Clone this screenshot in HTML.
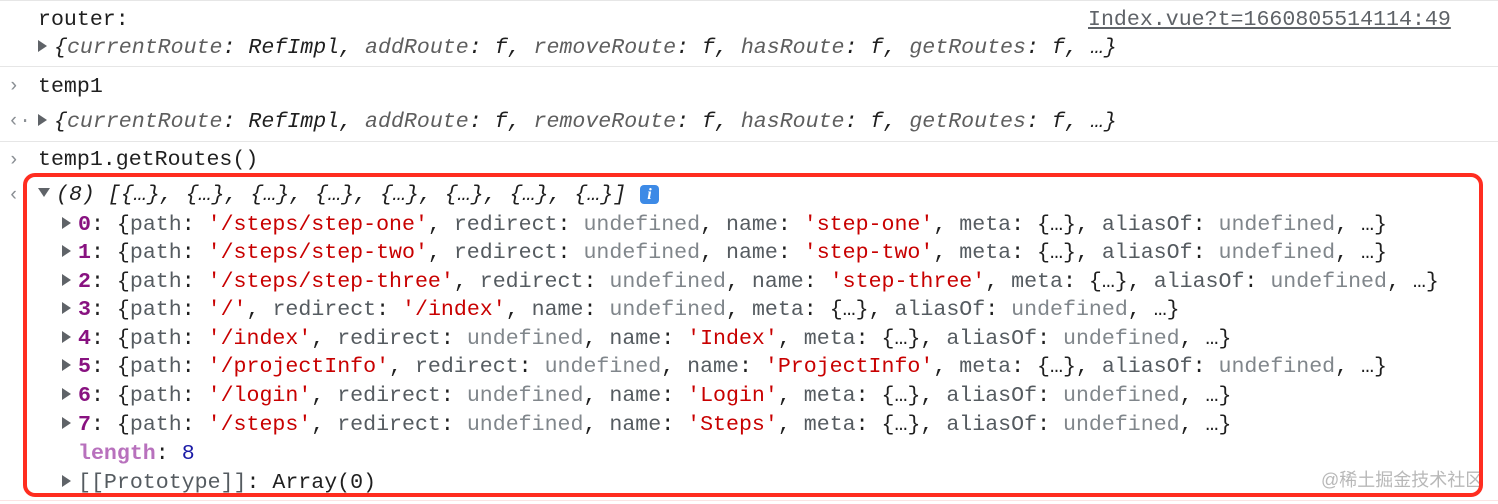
<!DOCTYPE html>
<html><head><meta charset="utf-8"><style>
html,body{margin:0;padding:0;background:#fff;}
body{width:1498px;height:504px;position:relative;overflow:hidden;font-family:"Liberation Mono",monospace;font-size:21.6px;color:#1f1f1f;}
.l{position:absolute;white-space:pre;line-height:28px;height:28px;}
.sep{position:absolute;left:0;width:1498px;height:1px;background:#e6e6e6;}
.i{font-style:italic;}
.g{color:#5e5e5e;}
.k{color:#555b60;}
.s{color:#c80000;}
.u{color:#80868b;}
.n{color:#881280;font-weight:bold;}
.tri{display:inline-block;width:0;height:0;border-top:6px solid transparent;border-bottom:6px solid transparent;border-left:9px solid #5f6368;margin-right:7px;vertical-align:1px;}
.tdn{display:inline-block;width:0;height:0;border-left:6px solid transparent;border-right:6px solid transparent;border-top:9px solid #5f6368;margin-right:6px;vertical-align:3px;}
.pr{position:absolute;left:8px;color:#8a8f94;font-size:19px;}
</style></head><body>
<div class="sep" style="top:0"></div>
<div class="l" style="left:38px;top:6px">router:</div>
<div class="l" style="left:1088px;top:6px;color:#5f6368;text-decoration:underline">Index.vue?t=1660805514114:49</div>
<div class="l" style="left:38px;top:34px"><span class="tri"></span><span class="i">{<span class="g">currentRoute</span>: RefImpl, <span class="g">addRoute</span>: f, <span class="g">removeRoute</span>: f, <span class="g">hasRoute</span>: f, <span class="g">getRoutes</span>: f, …}</span></div>
<div class="sep" style="top:66px"></div>
<div class="pr l" style="top:72px">›</div>
<div class="l" style="left:38px;top:73px">temp1</div>
<div class="pr l" style="top:107px">‹·</div>
<div class="l" style="left:38px;top:108px"><span class="tri"></span><span class="i">{<span class="g">currentRoute</span>: RefImpl, <span class="g">addRoute</span>: f, <span class="g">removeRoute</span>: f, <span class="g">hasRoute</span>: f, <span class="g">getRoutes</span>: f, …}</span></div>
<div class="sep" style="top:141px"></div>
<div class="pr l" style="top:146px">›</div>
<div class="l" style="left:38px;top:146px">temp1.getRoutes()</div>
<div class="pr l" style="top:181px">‹·</div>
<div class="l" style="left:38px;top:181px"><span class="tdn"></span><span class="i">(8) [{…}, {…}, {…}, {…}, {…}, {…}, {…}, {…}]</span></div>
<div style="position:absolute;left:640px;top:185px;width:19px;height:19px;background:#3d8ae6;border-radius:4px;color:#fff;font:italic bold 16px 'Liberation Serif',serif;text-align:center;line-height:19px">i</div>

<div class="l" style="left:62px;top:211px"><span class="tri"></span><span class="n">0</span>: {<span class="k">path</span>: <span class="s">'/steps/step-one'</span>, <span class="k">redirect</span>: <span class="u">undefined</span>, <span class="k">name</span>: <span class="s">'step-one'</span>, <span class="k">meta</span>: {…}, <span class="k">aliasOf</span>: <span class="u">undefined</span>, …}</div>
<div class="l" style="left:62px;top:239px"><span class="tri"></span><span class="n">1</span>: {<span class="k">path</span>: <span class="s">'/steps/step-two'</span>, <span class="k">redirect</span>: <span class="u">undefined</span>, <span class="k">name</span>: <span class="s">'step-two'</span>, <span class="k">meta</span>: {…}, <span class="k">aliasOf</span>: <span class="u">undefined</span>, …}</div>
<div class="l" style="left:62px;top:268px"><span class="tri"></span><span class="n">2</span>: {<span class="k">path</span>: <span class="s">'/steps/step-three'</span>, <span class="k">redirect</span>: <span class="u">undefined</span>, <span class="k">name</span>: <span class="s">'step-three'</span>, <span class="k">meta</span>: {…}, <span class="k">aliasOf</span>: <span class="u">undefined</span>, …}</div>
<div class="l" style="left:62px;top:296px"><span class="tri"></span><span class="n">3</span>: {<span class="k">path</span>: <span class="s">'/'</span>, <span class="k">redirect</span>: <span class="s">'/index'</span>, <span class="k">name</span>: <span class="u">undefined</span>, <span class="k">meta</span>: {…}, <span class="k">aliasOf</span>: <span class="u">undefined</span>, …}</div>
<div class="l" style="left:62px;top:325px"><span class="tri"></span><span class="n">4</span>: {<span class="k">path</span>: <span class="s">'/index'</span>, <span class="k">redirect</span>: <span class="u">undefined</span>, <span class="k">name</span>: <span class="s">'Index'</span>, <span class="k">meta</span>: {…}, <span class="k">aliasOf</span>: <span class="u">undefined</span>, …}</div>
<div class="l" style="left:62px;top:353px"><span class="tri"></span><span class="n">5</span>: {<span class="k">path</span>: <span class="s">'/projectInfo'</span>, <span class="k">redirect</span>: <span class="u">undefined</span>, <span class="k">name</span>: <span class="s">'ProjectInfo'</span>, <span class="k">meta</span>: {…}, <span class="k">aliasOf</span>: <span class="u">undefined</span>, …}</div>
<div class="l" style="left:62px;top:382px"><span class="tri"></span><span class="n">6</span>: {<span class="k">path</span>: <span class="s">'/login'</span>, <span class="k">redirect</span>: <span class="u">undefined</span>, <span class="k">name</span>: <span class="s">'Login'</span>, <span class="k">meta</span>: {…}, <span class="k">aliasOf</span>: <span class="u">undefined</span>, …}</div>
<div class="l" style="left:62px;top:411px"><span class="tri"></span><span class="n">7</span>: {<span class="k">path</span>: <span class="s">'/steps'</span>, <span class="k">redirect</span>: <span class="u">undefined</span>, <span class="k">name</span>: <span class="s">'Steps'</span>, <span class="k">meta</span>: {…}, <span class="k">aliasOf</span>: <span class="u">undefined</span>, …}</div>
<div class="l" style="left:78px;top:440px"><span style="color:#b871bd;font-weight:bold">length</span>: <span style="color:#1a1aa6">8</span></div>
<div class="l" style="left:62px;top:469px"><span class="tri"></span><span class="k">[[Prototype]]</span>: Array(0)</div>

<div style="position:absolute;left:1321px;top:466px;font-family:'Liberation Sans','Noto Sans CJK SC',sans-serif;font-size:18px;color:#b8b8b8;white-space:nowrap">@稀土掘金技术社区</div>
<div style="position:absolute;left:23px;top:173px;width:1452px;height:316px;border:4px solid #ff2d20;border-radius:12px"></div>
<div class="sep" style="top:500px;background:#fbe3e3"></div>
</body></html>
